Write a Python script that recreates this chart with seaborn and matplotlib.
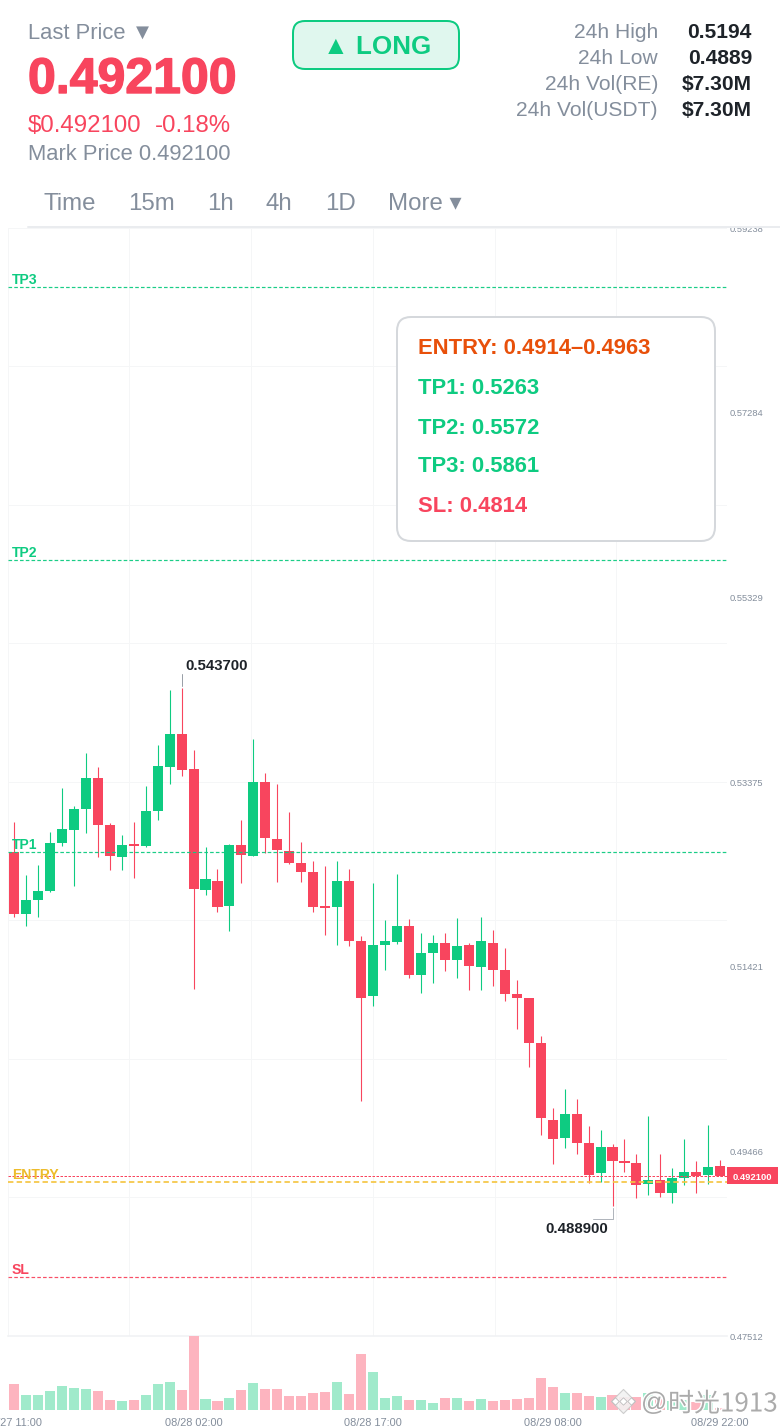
import matplotlib
matplotlib.use("Agg")
import matplotlib.pyplot as plt
import matplotlib.patheffects as pe
from matplotlib.lines import Line2D
from matplotlib.patches import FancyBboxPatch, Rectangle
import pandas as pd
import seaborn as sns

# ---------- data ----------
opens = [.52632,.51983,.52131,.52223,.52734,.52872,.53090,.53422,.52921,.52583,
         .52720,.52702,.53073,.53535,.53880,.53510,.52237,.52332,.52064,.52710,
         .52593,.53380,.52770,.52650,.52519,.52420,.52064,.52054,.52332,.51694,
         .51105,.51651,.51683,.51853,.51334,.51570,.51673,.51493,.51651,.51422,
         .51673,.51383,.51133,.51084,.50615,.49800,.49606,.49863,.49553,.49232,
         .49514,.49366,.49345,.49116,.49165,.49024,.49183,.49243,.49214,.49313]
highs = [.52956,.52392,.52498,.52851,.53313,.53122,.53679,.53531,.52939,.52812,
         .52953,.53334,.53771,.54350,.54370,.53711,.52692,.52452,.52720,.52974,
         .53831,.53471,.53351,.53059,.52741,.52540,.52491,.52540,.52452,.51740,
         .52304,.51912,.52403,.51930,.51782,.51754,.51782,.51934,.51669,.51944,
         .51814,.51613,.51281,.51087,.50682,.49923,.50131,.50022,.49733,.49694,
         .49546,.49602,.49440,.49842,.49433,.49292,.49592,.49362,.49743,.49377]
lows = [.51951,.51856,.51944,.52212,.52702,.52276,.52833,.52576,.52445,.52445,
        .52364,.52692,.52974,.53355,.53440,.51182,.52180,.51994,.51793,.52304,
        .52593,.52621,.52315,.52509,.52315,.52004,.51754,.51655,.51644,.50004,
        .51006,.51383,.51662,.51306,.51137,.51253,.51380,.51306,.51175,.51175,
        .51221,.51062,.50763,.50354,.49634,.49334,.49504,.49433,.49133,.49144,
        .48893,.49243,.48974,.49006,.48985,.48915,.49105,.49024,.49116,.49207]
closes = [.51983,.52131,.52223,.52731,.52879,.53090,.53422,.52925,.52593,.52710,
          .52702,.53069,.53542,.53880,.53503,.52244,.52350,.52054,.52710,.52604,
          .53380,.52784,.52653,.52523,.52424,.52054,.52043,.52322,.51694,.51094,
          .51651,.51694,.51853,.51334,.51570,.51673,.51493,.51641,.51433,.51694,
          .51383,.51133,.51084,.50615,.49814,.49602,.49863,.49553,.49221,.49514,
          .49366,.49345,.49105,.49165,.49024,.49183,.49243,.49204,.49302,.49210]
volumes = [77,46,44,57,71,66,64,57,30,28,29,45,78,83,60,223,33,27,36,59,
           81,63,63,41,42,50,54,85,47,168,116,36,42,30,31,22,36,36,26,33,
           26,29,33,37,96,70,52,50,43,39,45,38,38,51,35,27,30,23,46,6]

level_names = ["TP3", "TP2", "TP1", "ENTRY", "SL"]
level_values = [0.5861, 0.5572, 0.5263, 0.4914, 0.4814]
last_price = 0.4921
high_value, low_value = 0.5437, 0.4889
high_label, low_label = "0.543700", "0.488900"

axis_prices = [0.59238, 0.57284, 0.55329, 0.53375, 0.51421, 0.49466, 0.47512]
axis_labels = ["0.59238", "0.57284", "0.55329", "0.53375", "0.51421", "0.49466", "0.47512"]
grid_prices = [0.59238, 0.577725, 0.56307, 0.548415, 0.53376, 0.519105, 0.50445, 0.489795]
grid_index = [9.63, 19.8, 30.0, 40.17, 50.3]
time_index = [0, 15, 30, 45, 59]
time_labels = ["08/27 11:00", "08/28 02:00", "08/28 17:00", "08/29 08:00", "08/29 22:00"]

stat_names = ["24h High", "24h Low", "24h Vol(RE)", "24h Vol(USDT)"]
stat_values = ["0.5194", "0.4889", "$7.30M", "$7.30M"]
tabs = ["Time", "15m", "1h", "4h", "1D", "More ▾"]
plan_lines = ["ENTRY: 0.4914–0.4963", "TP1: 0.5263", "TP2: 0.5572", "TP3: 0.5861", "SL: 0.4814"]

# ---------- style ----------
RED, GREEN, GRAY, DARK = "#F8455E", "#0ECB81", "#848E9C", "#1E2329"
RED_V, GREEN_V = "#FDB4BF", "#A0EACB"
GRID = "#F5F6F7"
sns.set_theme(style="white")
plt.rcParams["font.family"] = ["Liberation Sans", "DejaVu Sans"]

W, H = 780, 1428
fig = plt.figure(figsize=(W / 100, H / 100), dpi=100, facecolor="white")
def px_axes(x0, y0, x1, y1, **kw):
    return fig.add_axes([x0 / W, 1 - y1 / H, (x1 - x0) / W, (y1 - y0) / H], **kw)
pt = lambda p: p * 0.72

df = pd.DataFrame({"i": range(len(opens)), "open": opens, "high": highs, "low": lows,
                   "close": closes, "volume": volumes})
df["dir"] = ["up" if c >= o else "down" for o, c in zip(df.open, df.close)]
XLIM = (-0.5, 59.565)

# ---------- price panel ----------
ax = px_axes(8, 228, 727, 1336)
ax.set_xlim(*XLIM)
ax.set_ylim(axis_prices[-1], axis_prices[0])
ax.set_xticks(grid_index)
ax.set_yticks(grid_prices)
ax.tick_params(length=0, labelbottom=False, labelleft=False)
ax.grid(True, color=GRID, lw=pt(1.0))
ax.set_axisbelow(True)
for s in ("top", "right"):
    ax.spines[s].set_visible(False)
ax.spines["left"].set_color(GRID)
ax.spines["left"].set_linewidth(pt(1.0))
ax.spines["bottom"].set_color("#F1F2F4")
ax.spines["bottom"].set_linewidth(pt(1.6))

colors = df["dir"].map({"up": GREEN, "down": RED})
ax.vlines(df.i, df.low, df.high, colors=colors, lw=pt(1.1), zorder=3)
ax.bar(df.i, (df.close - df.open).abs(), bottom=df[["open", "close"]].min(axis=1),
       width=0.84, color=colors, lw=0, zorder=4)

level_colors = [GREEN, GREEN, GREEN, "#F5C542", RED]
label_colors = [GREEN, GREEN, GREEN, "#EDBC2C", RED]
level_widths = [1.2, 1.2, 1.2, 1.8, 1.2]
for name, val, lc, tc, lw in zip(level_names, level_values, level_colors, label_colors, level_widths):
    ax.axhline(val, color=lc, lw=pt(lw), dashes=(3, 1.8), zorder=5, alpha=0.95)
    ax.annotate(name, xy=(XLIM[0], val), xytext=(pt(4), pt(7)), textcoords="offset points",
                color=tc, fontsize=pt(14), fontweight="bold", va="center", ha="left", zorder=6)
ax.axhline(last_price, color=RED, lw=pt(1), dashes=(2.5, 1.5), zorder=5)

sec = ax.secondary_yaxis("right")
sec.set_yticks(axis_prices, labels=axis_labels)
sec.tick_params(length=0, pad=pt(3), labelsize=pt(9.4), labelcolor=GRAY)
sec.spines["right"].set_visible(False)

hi_x = int(df.high.idxmax()); lo_x = int(df.low.idxmin())
hi_pt = ax.transData.transform((hi_x, high_value))
lo_pt = ax.transData.transform((lo_x, low_value))
fig.add_artist(Line2D([hi_pt[0], hi_pt[0]], [hi_pt[1] + 2, hi_pt[1] + 14], color="#9AA0A8", lw=pt(1),
                      transform=None, zorder=6))
fig.add_artist(Line2D([lo_pt[0], lo_pt[0], lo_pt[0] - 20], [lo_pt[1] - 2, lo_pt[1] - 13, lo_pt[1] - 13],
                      color="#B0B5BC", lw=pt(1), transform=None, zorder=6))
ax.annotate(high_label, xy=(hi_x, high_value), xytext=(pt(4), pt(22)), textcoords="offset points",
            color=DARK, fontsize=pt(15), fontweight="bold", ha="left", va="center", zorder=7)
ax.annotate(low_label, xy=(lo_x, low_value), xytext=(pt(-4), pt(-23)), textcoords="offset points",
            color=DARK, fontsize=pt(15), fontweight="bold", ha="right", va="center", zorder=7)

# ---------- volume panel ----------
vax = px_axes(8, 1336, 727, 1410)
sns.barplot(data=df, x="i", y="volume", hue="dir", palette={"up": GREEN_V, "down": RED_V},
            native_scale=True, dodge=False, width=0.84, saturation=1, errorbar=None,
            legend=False, ax=vax, linewidth=0)
vax.set_xlim(*XLIM)
vax.set_ylim(0, max(volumes))
vax.set_xticks(time_index, labels=time_labels)
vax.set_yticks([])
vax.set_xlabel(""); vax.set_ylabel("")
vax.tick_params(axis="x", length=0, pad=pt(8), labelsize=pt(11), labelcolor=GRAY)
for s in vax.spines.values():
    s.set_visible(False)
vax.patch.set_alpha(0)

# ---------- page furniture ----------
ui = fig.add_axes([0, 0, 1, 1], zorder=20)
ui.set_xlim(0, W); ui.set_ylim(H, 0); ui.axis("off"); ui.patch.set_alpha(0)
ui.add_patch(Rectangle((0, 0), W, 226.5, color="white", lw=0, zorder=1))
ui.plot([28, W], [227, 227], color="#EAECEF", lw=pt(2), zorder=2)
def T(x, y, s, size, color, weight="normal", ha="left", **kw):
    return ui.text(x, y + 0.09 * size, s, fontsize=pt(size), color=color, fontweight=weight,
                   ha=ha, va="center", zorder=5, **kw)

T(28, 31, "Last Price ▼", 22, GRAY)
T(28, 75.5, "0.492100", 50, RED, "bold",
  path_effects=[pe.withStroke(linewidth=1.0, foreground=RED)])
T(28, 124, "$0.492100", 24, RED)
T(155, 124, "-0.18%", 24, RED)
T(28, 153, "Mark Price 0.492100", 22, GRAY)
for (x, s) in zip([44, 128, 207, 266, 325, 388], tabs):
    T(x, 202, s, 24, GRAY)
ui.add_patch(FancyBboxPatch((293, 21), 166, 48, boxstyle="round,pad=0,rounding_size=12",
                            fc="#E0F7EE", ec=GREEN, lw=pt(2), zorder=3))
T(377, 45, "▲ LONG", 26, GREEN, "bold", ha="center")
for y, n, v in zip([31, 57, 83, 109], stat_names, stat_values):
    T(658, y, n, 21, GRAY, ha="right")
    T(752, y, v, 21, DARK, "bold", ha="right")

ui.add_patch(FancyBboxPatch((397, 317), 318, 224, boxstyle="round,pad=0,rounding_size=14",
                            fc="white", ec="#D5D8DC", lw=pt(2), zorder=3))
for y, s, c in zip([347, 387, 427, 465, 505], plan_lines, ["#E8500A", GREEN, GREEN, GREEN, RED]):
    T(418, y, s, 22, c, "bold")

# last-price tag
yc = H - ax.transData.transform((0, last_price))[1]
ui.add_patch(Rectangle((727, yc - 8.5), 51, 17, color=RED, lw=0, zorder=3))
T(752.5, yc + 1, "0.492100", 9.4, "white", "bold", ha="center")

# watermark
stroke = [pe.withStroke(linewidth=2, foreground="white")]
ui.scatter([623], [1401], marker="D", s=150, fc="#F2F2F2", ec="#C9C9C9", lw=0.8, zorder=6, alpha=0.9)
ui.scatter([615, 623, 631], [1401, 1401, 1401], marker="D", s=14, fc="white", ec="#B5B5B5", lw=0.5, zorder=7)
T(641, 1401, "@", 26, "#A9A9A9", path_effects=stroke)
ui.text(668, 1404, "时光1913", fontsize=pt(26), color="#ABABAB", va="center", ha="left", zorder=7,
        family=["Noto Sans CJK SC", "DejaVu Sans"], path_effects=stroke)

fig.savefig("out.png", dpi=100, facecolor="white")
